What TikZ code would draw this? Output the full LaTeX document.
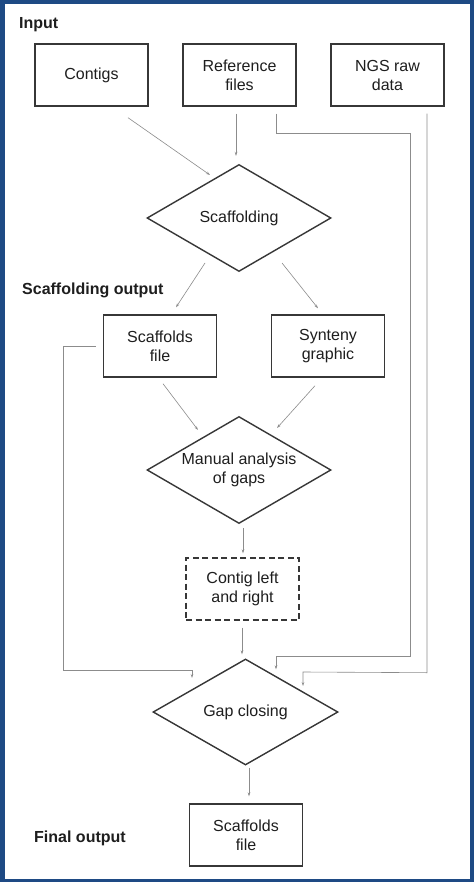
\documentclass[tikz,border=0pt]{standalone}
\usepackage{fontspec}
\setmainfont{Liberation Sans}
\usetikzlibrary{shapes.geometric,arrows.meta,calc}
\definecolor{frameblue}{RGB}{30,74,132}
\definecolor{boxline}{RGB}{55,55,55}
\definecolor{connline}{RGB}{140,140,140}
\definecolor{txt}{RGB}{30,30,30}
\begin{document}
\begin{tikzpicture}[x=1pt,y=-1pt,
  box/.style={draw=boxline,line width=1.4pt,minimum width=113pt,minimum height=62pt,
    align=center,font=\fontsize{16}{19}\selectfont,text=txt,inner sep=0pt},
  dbox/.style={box,dash pattern=on 6pt off 3.5pt},
  dia/.style={draw=boxline,line width=1.4pt,diamond,minimum width=184pt,minimum height=107pt,inner sep=0pt},
  diatext/.style={align=center,font=\fontsize{16}{19}\selectfont,text=txt,inner sep=0pt},
  conn/.style={draw=connline,line width=0.6pt,-{Stealth[length=4pt,width=2.6pt]}},
  lbl/.style={font=\bfseries\fontsize{16}{19}\selectfont,text=txt,anchor=base west,inner sep=0pt}]
\useasboundingbox (0,0) rectangle (474,882);
\fill[frameblue] (0,0) rectangle (474,882);
\fill[white] (5,4) rectangle (470,879);

\node[lbl] (linput) at (19,29) {Input};
\node[lbl] (lscout) at (22,294) {Scaffolding output};
\node[lbl] (lfinal) at (34,842) {Final output};

\node[box] (contigs) at (91.5,75) {Contigs};
\node[box] (ref) at (239.5,75) {Reference\\files};
\node[box] (ngs) at (387.5,75) {NGS raw\\data};

\node[dia] (scaf) at (239,218) {};
\node[diatext] (scaftxt) at (scaf.center) {Scaffolding};

\node[box] (scafile) at (160,346) {Scaffolds\\file};
\node[box] (synt) at (328,346) {Synteny\\graphic};

\node[dia] (manual) at (239,470) {};
\node[diatext] (manualtxt) at (manual.center) {Manual analysis\\of gaps};

\node[dbox] (clr) at (242.5,589) {Contig left\\and right};

\node[dia,minimum width=185pt,minimum height=106pt] (gap) at (245.5,712) {};
\node[diatext] (gaptxt) at (gap.center) {Gap closing};

\node[box] (final) at (246,835) {Scaffolds\\file};

% connectors
\draw[conn] ($(contigs.south)+(36.5,11)$) -- ($(scaf.center)+(-29,-43)$);
\draw[conn] ($(ref.south)+(-3.5,7)$) -- ($(scaf.north)+(-3,-8)$);
\draw[conn] ($(ref.south)+(36.5,7)$) -- ++(0,20) -- ++(134,0) -- ++(0,523) -- ++(-134,0) -- ($(gap.north)+(30.5,11)$);
\draw[conn] ($(ngs.south)+(39.5,7)$) -- ++(0,559) -- ($(gap.center)+(57.5,-40)$) -- ($(gap.center)+(57.5,-26)$);
\draw[conn] ($(scaf.center)+(-34,45)$) -- ($(scafile.north)+(16,-7)$);
\draw[conn] ($(scaf.center)+(43,45)$) -- ($(synt.north)+(-10,-6)$);
\draw[conn] ($(scafile.south)+(3,6)$) -- ($(manual.center)+(-41,-40)$);
\draw[conn] ($(synt.south)+(-13,8)$) -- ($(manual.center)+(38,-42)$);
\draw[conn] ($(scafile.west)+(-7,0)$) -- ++(-33,0) -- ++(0,324) -- ($(gap.center)+(-53.5,-42)$) -- ($(gap.center)+(-53.5,-34)$);
\draw[conn] ($(manual.south)+(4,4)$) -- ($(clr.north)+(0.5,-4)$);
\draw[conn] ($(clr.south)+(-0.5,7)$) -- ($(gap.north)+(-3.5,-4)$);
\draw[conn] ($(gap.south)+(3.5,2)$) -- ($(final.north)+(3,-7)$);
\end{tikzpicture}
\end{document}
